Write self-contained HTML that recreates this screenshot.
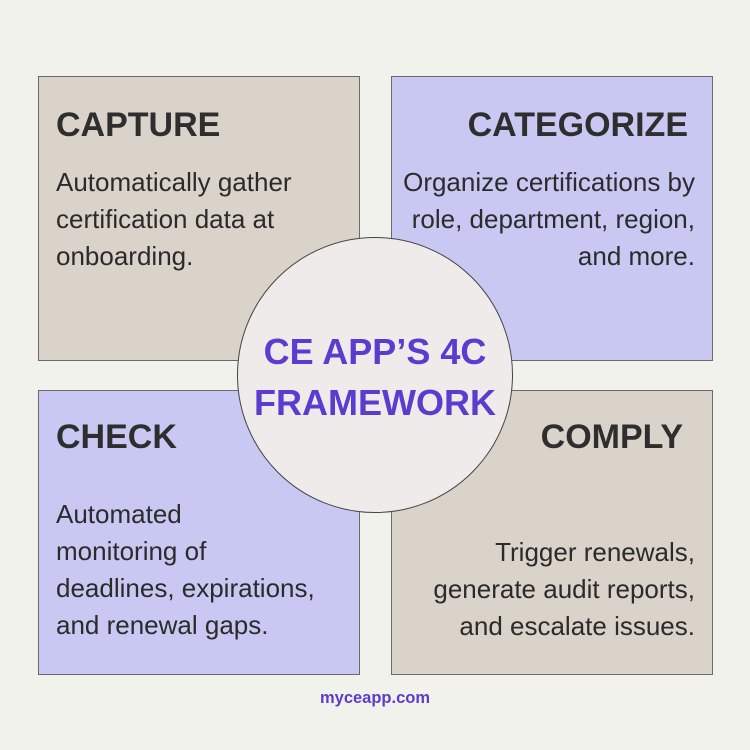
<!DOCTYPE html>
<html><head><style>
body{margin:0;width:750px;height:750px;background:#f2f2ec;position:relative;overflow:hidden;font-family:"Liberation Sans",sans-serif;}
.b{position:absolute;box-sizing:border-box;border:1px solid #6a6a6a;}
.beige{background:#d9d3ca}.lav{background:#c8c8f3}
h{position:absolute;font-weight:bold;font-size:34px;color:#2e2e2e;line-height:40px;white-space:nowrap}
.p{position:absolute;font-size:26px;line-height:37px;color:#2b2b2b;white-space:nowrap}
.r{text-align:right}
</style></head><body>
<div class="b beige" style="left:38px;top:76px;width:322px;height:285px"></div>
<div class="b lav" style="left:391px;top:76px;width:322px;height:285px"></div>
<div class="b lav" style="left:38px;top:390px;width:322px;height:285px"></div>
<div class="b beige" style="left:391px;top:390px;width:322px;height:285px"></div>

<h style="left:56px;top:105px">CAPTURE</h>
<div class="p" style="left:56px;top:164px">Automatically gather<br>certification data at<br>onboarding.</div>

<h style="right:62px;top:105px">CATEGORIZE</h>
<div class="p r" style="right:55px;top:164px">Organize certifications by<br>role, department, region,<br>and more.</div>

<h style="left:56px;top:417px">CHECK</h>
<div class="p" style="left:56px;top:496px">Automated<br>monitoring of<br>deadlines, expirations,<br>and renewal gaps.</div>

<h style="right:67px;top:417px">COMPLY</h>
<div class="p r" style="right:55px;top:534px">Trigger renewals,<br>generate audit reports,<br>and escalate issues.</div>

<div style="position:absolute;left:237px;top:237px;width:274px;height:274px;border-radius:50%;background:#f0ebeb;border:1px solid #444;"></div>
<div style="position:absolute;left:237px;top:326px;width:276px;text-align:center;font-weight:bold;font-size:36px;line-height:51px;color:#5b3ccf">CE APP’S 4C<br>FRAMEWORK</div>

<div style="position:absolute;left:0;width:750px;top:689px;text-align:center;font-weight:bold;font-size:16.5px;color:#5b3ccf">myceapp.com</div>
</body></html>
